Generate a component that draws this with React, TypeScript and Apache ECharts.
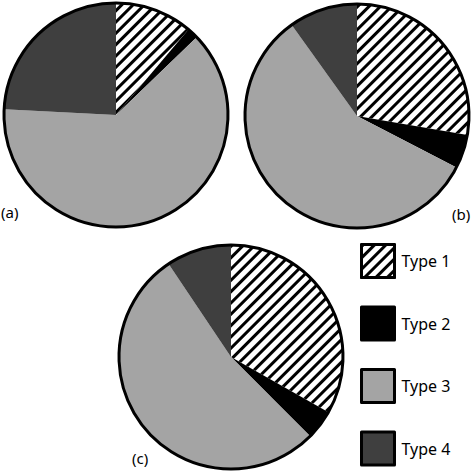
import React, { useEffect, useRef } from "react";
import * as echarts from "echarts";

const categories = ["Type 1", "Type 2", "Type 3", "Type 4"];
const pieA = [11.2, 1.6, 63.0, 24.2];
const pieB = [27.7, 4.9, 57.5, 9.9];
const pieC = [33.2, 4.3, 53.1, 9.4];
const panelLabels = ["(a)", "(b)", "(c)"];

const colors = ["#ffffff", "#000000", "#a4a4a4", "#3f3f3f"];
const hatch = {
  symbol: "rect",
  color: "#000000",
  backgroundColor: "#ffffff",
  dashArrayX: [1, 0],
  dashArrayY: [3, 5],
  rotation: -Math.PI / 4,
};

function makeData(vals: number[]) {
  return vals.map((v, i) => ({
    name: categories[i],
    value: v,
    itemStyle: i === 0 ? { color: colors[0], decal: hatch } : { color: colors[i] },
  }));
}

export default function App() {
  const ref = useRef<HTMLDivElement>(null);
  useEffect(() => {
    document.body.style.margin = "0";
    const chart = echarts.init(ref.current!, null, { renderer: "svg" });
    const pies = [
      { data: pieA, center: [116, 115] },
      { data: pieB, center: [357, 116] },
      { data: pieC, center: [231, 357] },
    ];
    const series: any[] = [];
    pies.forEach((p) => {
      series.push({
        type: "pie",
        center: p.center,
        radius: 112,
        startAngle: 90,
        clockwise: true,
        label: { show: false },
        labelLine: { show: false },
        silent: true,
        emphasis: { disabled: true },
        itemStyle: { borderWidth: 0 },
        data: makeData(p.data),
      });
      series.push({
        type: "pie",
        center: p.center,
        radius: 112,
        label: { show: false },
        labelLine: { show: false },
        silent: true,
        emphasis: { disabled: true },
        itemStyle: { color: "rgba(0,0,0,0)", borderColor: "#000", borderWidth: 3 },
        data: [{ name: "outline", value: 1 }],
      });
    });
    chart.setOption({
      animation: false,
      backgroundColor: "#ffffff",
      legend: {
        data: categories,
        orient: "vertical",
        left: 360,
        top: 243,
        width: 114,
        height: 500,
        padding: 0,
        itemWidth: 33,
        itemHeight: 33,
        itemGap: 26.5,
        icon: "rect",
        selectedMode: false,
        itemStyle: { borderColor: "#000", borderWidth: 3 },
        textStyle: {
          fontFamily: "Noto Sans",
          fontSize: 16,
          color: "#000",
          padding: [0, 0, 0, 2],
        },
      },
      graphic: [
        { type: "text", left: 1, top: 204, style: { text: panelLabels[0], font: "15px 'Noto Sans'", fill: "#000" } },
        { type: "text", left: 452, top: 206, style: { text: panelLabels[1], font: "15px 'Noto Sans'", fill: "#000" } },
        { type: "text", left: 132, top: 450, style: { text: panelLabels[2], font: "15px 'Noto Sans'", fill: "#000" } },
      ],
      series,
    });
    return () => chart.dispose();
  }, []);
  return <div ref={ref} style={{ position: "fixed", left: 0, top: 0, width: 474, height: 474 }} />;
}
